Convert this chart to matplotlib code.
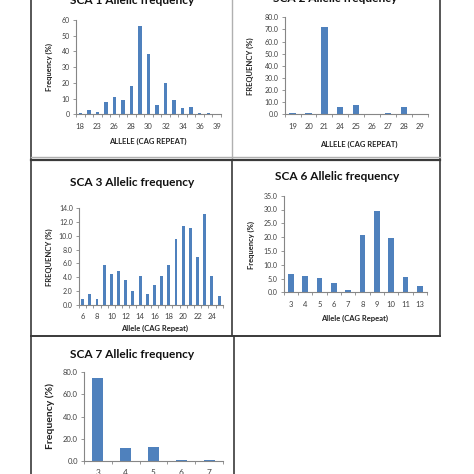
import matplotlib
matplotlib.use("Agg")
import matplotlib.pyplot as plt
import numpy as np

plt.rcParams['font.family'] = ['Lato', 'DejaVu Sans']

# data
sca1_alleles = ['18', '22', '23', '25', '26', '27', '28', '29', '30', '31', '32', '33', '34', '35', '36', '38', '39']
sca1_freq = [0.6, 2.8, 1.7, 7.8, 10.8, 8.9, 17.8, 56.2, 38.2, 5.9, 20.1, 8.9, 4.0, 4.9, 0.6, 0.6, 0.5]

sca2_alleles = ['19', '20', '21', '24', '25', '26', '27', '28', '29']
sca2_freq = [1.4, 1.4, 72.3, 5.8, 7.4, 0.3, 1.4, 6.3, 0.5]

sca3_alleles = [str(a) for a in range(6, 26)]
sca3_freq = [0.8, 1.6, 0.8, 5.7, 4.5, 4.9, 3.6, 2.0, 4.1, 1.6,
             2.8, 4.1, 5.7, 9.5, 11.5, 11.1, 7.0, 13.2, 4.1, 1.3]

sca6_alleles = ['3', '4', '5', '6', '7', '8', '9', '10', '11', '13']
sca6_freq = [6.5, 6.0, 5.3, 3.3, 0.8, 20.6, 29.6, 19.7, 5.4, 2.4]

sca7_alleles = ['3', '4', '5', '6', '7']
sca7_freq = [75.2, 11.2, 12.1, 0.3, 0.7]

W = 474.0
BLUE = '#4F81BD'
AXC = '#868686'
TXT = '#404040'

fig = plt.figure(figsize=(4.74, 4.74), dpi=100)


def px_axes(x0, x1, ytop, ybot):
    return fig.add_axes([x0 / W, 1 - ybot / W, (x1 - x0) / W, (ybot - ytop) / W])


def fig_text(x, y, s, **kw):
    fig.text(x / W, 1 - y / W, s, **kw)


def fig_line(xs, ys, color='#3a3a3a', lw=1.2):
    fig.add_artist(plt.Line2D([x / W for x in xs], [1 - y / W for y in ys],
                              color=color, lw=lw, transform=fig.transFigure))


def bar_panel(box, cats, vals, ymax, ystep, fmt, every=1, tick_fs=5, xpad=6):
    ax = px_axes(*box)
    x = np.arange(len(cats))
    ax.bar(x, vals, width=0.4, color=BLUE, zorder=2)
    ax.set_xlim(-0.5, len(cats) - 0.5)
    ax.set_ylim(0, ymax)
    yt = np.arange(0, ymax + ystep / 2, ystep)
    ax.set_yticks(yt)
    ax.set_yticklabels([fmt.format(v) for v in yt])
    ax.set_xticks(x[::every])
    ax.set_xticklabels(cats[::every])
    ax.set_xticks(np.arange(-0.5, len(cats)), minor=True)
    for s in ['top', 'right']:
        ax.spines[s].set_visible(False)
    for s in ['left', 'bottom']:
        ax.spines[s].set_color(AXC)
        ax.spines[s].set_linewidth(0.8)
    ax.tick_params(axis='y', length=2.5, width=0.6, color=AXC, labelsize=tick_fs,
                   labelcolor=TXT, pad=2)
    ax.tick_params(axis='x', which='major', length=0, labelsize=tick_fs + 0.5,
                   labelcolor=TXT, pad=xpad)
    ax.tick_params(axis='x', which='minor', length=2.5, width=0.6, color=AXC)
    ax.patch.set_alpha(0)
    return ax


# panel borders
fig_line([31, 31], [0, 474])
fig_line([440, 440], [0, 336])
fig_line([232, 232], [0, 158], color='#b0b0b0', lw=1.0)
fig_line([232, 232], [160, 336])
fig_line([234, 234], [336, 474])
fig_line([31, 440], [157, 157], color='#b0b0b0', lw=1.0)
fig_line([31, 440], [160, 160], lw=1.6)
fig_line([31, 440], [336, 336], lw=1.4)

TITLE_FS = 8.6

# SCA 1
bar_panel((76, 221, 20, 114.3), sca1_alleles, sca1_freq, 60, 10, '{:.0f}', every=2)
fig_text(132, 1, 'SCA 1 Allelic frequency', ha='center', va='center',
         fontsize=TITLE_FS, fontweight='bold', color='#111111')
fig_text(49, 67, 'Frequency (%)', rotation=90, ha='center', va='center',
         fontsize=5.5, fontweight='bold', color='#222222')
fig_text(148, 141, 'ALLELE (CAG REPEAT)', ha='center', va='center',
         fontsize=5.5, fontweight='bold', color='#222222')

# SCA 2
bar_panel((284.7, 427.7, 17.3, 114.3), sca2_alleles, sca2_freq, 80, 10, '{:.1f}')
fig_text(335, -2, 'SCA 2 Allelic frequency', ha='center', va='center',
         fontsize=TITLE_FS, fontweight='bold', color='#111111')
fig_text(250, 66, 'FREQUENCY (%)', rotation=90, ha='center', va='center',
         fontsize=5.5, fontweight='bold', color='#222222')
fig_text(359, 144, 'ALLELE (CAG REPEAT)', ha='center', va='center',
         fontsize=5.5, fontweight='bold', color='#222222')

# SCA 3
bar_panel((79, 222.7, 208.3, 304.7), sca3_alleles, sca3_freq, 14, 2, '{:.1f}', every=2)
fig_text(132, 183, 'SCA 3 Allelic frequency', ha='center', va='center',
         fontsize=TITLE_FS, fontweight='bold', color='#111111')
fig_text(49, 257, 'FREQUENCY (%)', rotation=90, ha='center', va='center',
         fontsize=5.5, fontweight='bold', color='#222222')
fig_text(155, 328, 'Allele (CAG Repeat)', ha='center', va='center',
         fontsize=5.5, fontweight='bold', color='#222222')

# SCA 6
bar_panel((283.7, 427, 195.7, 292.3), sca6_alleles, sca6_freq, 35, 5, '{:.1f}')
fig_text(337, 177, 'SCA 6 Allelic frequency', ha='center', va='center',
         fontsize=TITLE_FS, fontweight='bold', color='#111111')
fig_text(251, 245, 'Frequency (%)', rotation=90, ha='center', va='center',
         fontsize=5.5, fontweight='bold', color='#222222')
fig_text(355, 318, 'Allele (CAG Repeat)', ha='center', va='center',
         fontsize=5.5, fontweight='bold', color='#222222')

# SCA 7
bar_panel((84, 223, 372.3, 460.7), sca7_alleles, sca7_freq, 80, 20, '{:.1f}',
          tick_fs=5.5)
fig_text(132, 354, 'SCA 7 Allelic frequency', ha='center', va='center',
         fontsize=TITLE_FS, fontweight='bold', color='#111111')
fig_text(50, 416, 'Frequency (%)', rotation=90, ha='center', va='center',
         fontsize=7.5, fontweight='bold', color='#222222')

fig.savefig('out.png', dpi=100, facecolor='white')
